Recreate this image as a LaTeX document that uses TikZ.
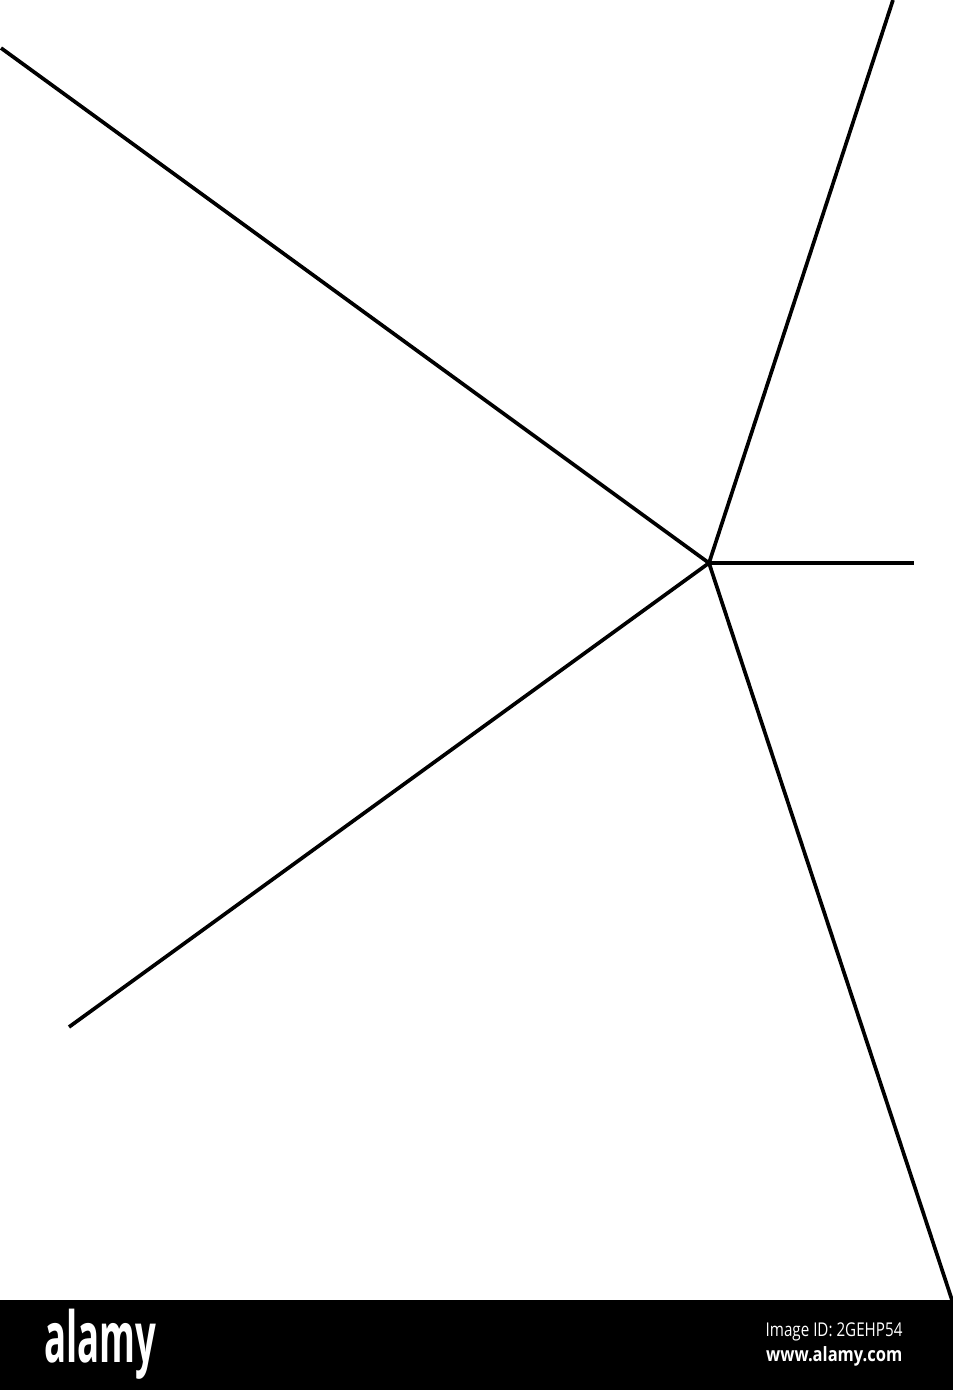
\documentclass[tikz,border=0pt]{standalone}
\usepackage{fontspec}
\setmainfont{Open Sans}
\usepackage{tikz}
\usepackage{xcolor}

\tikzset{
  spoke/.style={line width=1.05pt, color=black, line cap=butt},
  logo/.style={color=white, font=\bfseries\fontsize{20pt}{20pt}\selectfont, inner sep=0pt, xscale=0.52, transform shape},
  stamp/.style={color=white, font=\fontsize{5.4pt}{6pt}\selectfont, inner sep=0pt, anchor=east, xscale=0.8, transform shape}
}

\begin{document}
\begin{tikzpicture}
\useasboundingbox (0,0) rectangle (9.53,-13.9);
\fill[white] (0,0) rectangle (9.53,-13.0);
% watermark bar
\fill[black] (0,-13.0) rectangle (9.53,-13.9);
\node[logo] (brand) at (1.005,-13.44) {alamy};
\node[stamp] (imgid) at (9.03,-13.32) {Image ID: 2GEHP54};
\node[stamp, xscale=1.05, font=\bfseries\fontsize{5.6pt}{6pt}\selectfont] (site) at (9.03,-13.56) {www.alamy.com};

% hub and ends of the spokes
\coordinate (hub) at (7.09,-5.63);
\coordinate (upleft) at (0.01,-0.48);
\coordinate (upright) at (8.93,0.0);
\coordinate (right) at (9.14,-5.63);
\coordinate (downleft) at (0.69,-10.27);
\coordinate (downright) at (9.52,-13.0);

\draw[spoke] (hub) -- (upleft);
\draw[spoke] (hub) -- (upright);
\draw[spoke] (hub) -- (right);
\draw[spoke] (hub) -- (downleft);
\draw[spoke] (hub) -- (downright);
\end{tikzpicture}
\end{document}
